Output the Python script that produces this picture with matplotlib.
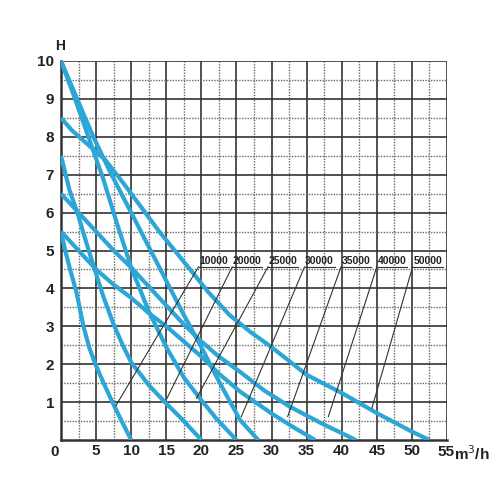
import matplotlib
matplotlib.use("Agg")
import matplotlib.pyplot as plt
import numpy as np

# pump curves, flow Q (m3/h) vs head H (m)
models = ["10000", "20000", "25000", "30000", "35000", "40000", "50000"]

q_10000 = [0, 0.6, 1.3, 2.2, 3.2, 4.0, 4.9, 6.2, 7.4, 8.7, 10]
h_10000 = [5.5, 5.0, 4.5, 3.9, 3.0, 2.45, 2.0, 1.45, 0.97, 0.48, 0]

q_20000 = [0, 1.2, 2.5, 3.7, 4.8, 6.1, 7.5, 8.8, 10, 12.5, 14.8, 17.5, 20]
h_20000 = [7.5, 6.6, 5.9, 5.15, 4.5, 3.75, 3.05, 2.5, 2.05, 1.45, 1.0, 0.5, 0]

q_25000 = [0, 2, 3.9, 6, 8, 10, 12.5, 15, 17.5, 20, 22.2, 25]
h_25000 = [10, 9.0, 8.0, 6.9, 5.7, 4.55, 3.4, 2.45, 1.65, 1.05, 0.55, 0]

q_30000 = [0, 2.3, 4.6, 7.2, 10, 12.5, 15, 17.5, 20, 22.5, 25.5, 28.1]
h_30000 = [10, 9.0, 8.0, 7.0, 6.0, 5.1, 4.2, 3.3, 2.45, 1.55, 0.53, 0]

q_35000 = [0, 2.5, 5, 7.5, 10, 12.5, 15, 17.5, 20, 22.5, 25.5, 30, 33, 36.2]
h_35000 = [5.5, 5.0, 4.5, 4.1, 3.75, 3.35, 3.0, 2.6, 2.2, 1.75, 1.28, 0.7, 0.35, 0]

q_40000 = [0, 2.5, 5, 7.5, 10, 12.5, 15, 17.5, 20, 22.5, 25.5, 29, 32.6, 37, 42]
h_40000 = [6.5, 6.0, 5.5, 5.0, 4.55, 4.05, 3.55, 3.05, 2.6, 2.2, 1.8, 1.3, 0.88, 0.45, 0]

q_50000 = [0, 1.5, 6.3, 9, 12, 14, 16.2, 18.4, 21, 24, 27, 30, 35, 40, 45, 50, 52.5]
h_50000 = [8.5, 8.18, 7.39, 6.75, 6.0, 5.5, 5.0, 4.5, 3.9, 3.3, 2.85, 2.45, 1.72, 1.24, 0.71, 0.22, 0]

# label positions (start of underline) and pointer tips
label_q = [19.6, 24.4, 29.5, 34.7, 39.9, 45.0, 50.1]
tip_q = [7.8, 15.1, 19.3, 25.7, 32.3, 38.1, 44.3]
tip_h = [0.9, 1.1, 1.1, 0.62, 0.62, 0.62, 0.84]

curves = [(q_10000, h_10000), (q_20000, h_20000), (q_25000, h_25000),
          (q_30000, h_30000), (q_35000, h_35000), (q_40000, h_40000),
          (q_50000, h_50000)]

blue = "#2ba6d6"
grid_dark = "#333333"
tick_font = ["Liberation Sans Narrow", "Liberation Sans", "DejaVu Sans"]

fig = plt.figure(figsize=(5, 5), dpi=100)
ax = fig.add_axes([0.122, 0.12, 0.772, 0.758])
ax.set_xlim(0, 55)
ax.set_ylim(0, 10)

# grid: solid every 5 / 1, dotted halfway
for x in np.arange(5, 55.1, 5):
    ax.axvline(x, color=grid_dark, lw=1.2, zorder=1)
for x in np.arange(2.5, 55, 5):
    ax.axvline(x, color="#666666", lw=1.0, ls=(0, (1, 1)), zorder=1)
for y in np.arange(1, 10.1, 1):
    ax.axhline(y, color=grid_dark, lw=1.2, zorder=1)
for y in np.arange(0.5, 10, 1):
    ax.axhline(y, color="#666666", lw=1.0, ls=(0, (1, 1)), zorder=1)

for s in ["top", "right"]:
    ax.spines[s].set_visible(False)
for s in ["left", "bottom"]:
    ax.spines[s].set_color(grid_dark)
    ax.spines[s].set_linewidth(1.8)

for q, h in curves:
    ax.plot(q, h, color=blue, lw=3, solid_capstyle="butt",
            solid_joinstyle="round", zorder=3)

# model labels with pointer lines
for name, lq, tq, th in zip(models, label_q, tip_q, tip_h):
    ax.plot([lq, tq], [4.57, th], color="#333333", lw=0.8, zorder=4)
    ax.plot([lq, lq + 4.3], [4.57, 4.57], color="#333333", lw=0.8, zorder=4)
    ax.text(lq + 0.1, 4.6, name, fontsize=7.5, fontweight="bold",
            family=["Liberation Sans", "DejaVu Sans"], ha="left", va="bottom",
            color="#222222", zorder=5)

ax.set_xticks(np.arange(5, 51, 5))
ax.set_yticks(np.arange(1, 11, 1))
ax.tick_params(length=0, pad=3)
for lab in ax.get_xticklabels() + ax.get_yticklabels():
    lab.set_family(tick_font)
    lab.set_fontweight("bold")
    lab.set_fontsize(11)
    lab.set_color("#222222")
ax.tick_params(axis="y", pad=5)

ax.text(-0.9, -0.12, "0", fontsize=11, fontweight="bold", family=tick_font,
        ha="center", va="top", color="#222222")
ax.text(54.8, -0.12, "55", fontsize=11, fontweight="bold", family=tick_font,
        ha="center", va="top", color="#222222")
ax.text(56.0, -0.12, "m$^3$/h", fontsize=11, fontweight="bold", family=tick_font,
        ha="left", va="top", color="#222222")
ax.text(-0.2, 10.22, "H", fontsize=10, fontweight="bold", family=tick_font,
        ha="center", va="bottom", color="#222222")

fig.savefig("out.png", dpi=100)
